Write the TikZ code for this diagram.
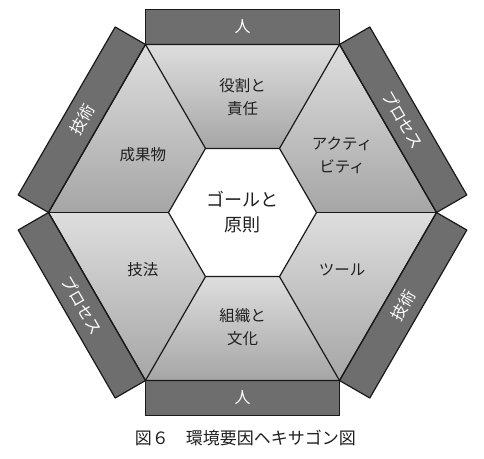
\documentclass[tikz,border=0pt]{standalone}
\usepackage{fontspec}
\usetikzlibrary{calc}
\newfontfamily\jp{Noto Sans CJK JP}
\begin{document}
\begin{tikzpicture}[x=1pt,y=1pt,
  edge/.style={draw=black!90,line width=1.2pt,line join=round},
  band/.style={edge,fill=black!57},
  bandtext/.style={text=white,font=\jp\fontsize{16}{18}\selectfont,inner sep=0pt},
  regtext/.style={text=black!88,font=\jp\fontsize{15.5}{23}\selectfont,align=center,inner sep=0pt},
  ctrtext/.style={text=black!88,font=\jp\fontsize{18}{25}\selectfont,align=center,inner sep=0pt},
  captext/.style={text=black!88,font=\jp\fontsize{17}{20}\selectfont,inner sep=0pt}]
\useasboundingbox (-242.5,-245.5) rectangle (241.5,212.5);
% vertices
\foreach \k in {0,...,5}{
  \coordinate (O\k) at (60*\k:194);
  \coordinate (I\k) at (60*\k:74);
}
\coordinate (O6) at (O0);
\coordinate (I6) at (I0);
% trapezoids
\foreach \k/\n in {0/1,1/2,2/3,3/4,4/5,5/6}{
  \shade[top color=black!13,bottom color=black!35] (O\k) -- (O\n) -- (I\n) -- (I\k) -- cycle;
}
% bands
\foreach \k/\n in {0/1,1/2,2/3,3/4,4/5,5/6}{
  \draw[band] (O\k) -- (O\n) -- ($(O\n)+(60*\k+30:35)$) -- ($(O\k)+(60*\k+30:35)$) -- cycle;
}
% outlines
\draw[edge] (O0) -- (O1) -- (O2) -- (O3) -- (O4) -- (O5) -- cycle;
\foreach \k in {0,...,5}{ \draw[edge] (I\k) -- (O\k); }
\draw[edge,fill=white] (I0) -- (I1) -- (I2) -- (I3) -- (I4) -- (I5) -- cycle;
% band labels
\node[bandtext] (b90) at (90:185.5) {人};
\node[bandtext,rotate=-60] (b30) at (30:185.5) {プロセス};
\node[bandtext,rotate=60] (b150) at (150:185.5) {技術};
\node[bandtext,rotate=-60] (b210) at (210:185.5) {プロセス};
\node[bandtext] (b270) at (270:185.5) {人};
\node[bandtext,rotate=60] (b330) at (330:185.5) {技術};
% region labels
\node[regtext] (r90) at (90:115) {役割と\\責任};
\node[regtext] (r30) at (30:115) {アクティ\\ビティ};
\node[regtext] (r150) at (150:115) {成果物};
\node[regtext] (r210) at (210:115) {技法};
\node[regtext] (r270) at (270:115) {組織と\\文化};
\node[regtext] (r330) at (330:115) {ツール};
\node[ctrtext] (ctr) at (0,0) {ゴールと\\原則};
\node[captext] (cap) at (3,-225.5) {図６　環境要因ヘキサゴン図};
\end{tikzpicture}
\end{document}
